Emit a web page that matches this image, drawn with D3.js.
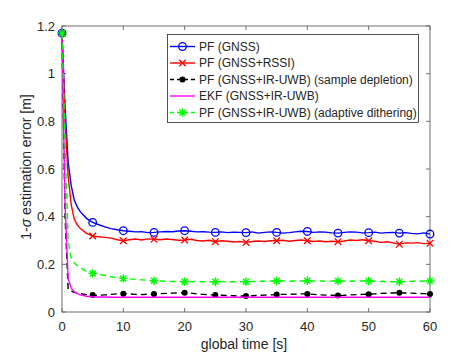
<!DOCTYPE html>
<html><head><meta charset="utf-8">
<script src="https://cdn.jsdelivr.net/npm/d3@7"></script>
<style>body{margin:0;background:#fff}svg{display:block}</style>
</head><body><svg id="c" width="474" height="355"></svg>
<script>
const times = [0,0.5,1,1.5,2,2.5,3,4,5,6,7,8,9,10,11,12,13,14,15,16,17,18,19,20,21,22,23,24,25,26,27,28,29,30,31,32,33,34,35,36,37,38,39,40,41,42,43,44,45,46,47,48,49,50,51,52,53,54,55,56,57,58,59,60];
const pfGnss = [1.17,0.86,0.63,0.53,0.47,0.44,0.42,0.393,0.376,0.366,0.357,0.350,0.345,0.341,0.339,0.336,0.337,0.333,0.334,0.336,0.338,0.337,0.340,0.341,0.339,0.336,0.337,0.335,0.334,0.336,0.333,0.335,0.334,0.333,0.336,0.331,0.334,0.336,0.334,0.331,0.333,0.336,0.339,0.338,0.334,0.336,0.335,0.332,0.331,0.334,0.336,0.335,0.332,0.333,0.335,0.331,0.333,0.334,0.331,0.333,0.330,0.328,0.332,0.327];
const pfRssi = [1.17,0.80,0.57,0.45,0.39,0.365,0.35,0.33,0.319,0.316,0.313,0.310,0.303,0.299,0.303,0.306,0.302,0.307,0.305,0.303,0.306,0.304,0.301,0.302,0.305,0.300,0.298,0.301,0.295,0.299,0.297,0.294,0.296,0.292,0.296,0.298,0.296,0.299,0.299,0.301,0.297,0.300,0.302,0.299,0.296,0.298,0.295,0.297,0.295,0.298,0.302,0.300,0.303,0.299,0.297,0.292,0.295,0.290,0.284,0.290,0.289,0.291,0.287,0.288];
const pfDepletion = [1.17,0.40,0.095,0.088,0.083,0.080,0.077,0.073,0.071,0.070,0.072,0.074,0.076,0.077,0.076,0.074,0.073,0.075,0.076,0.077,0.078,0.079,0.080,0.081,0.079,0.076,0.074,0.072,0.071,0.070,0.069,0.068,0.067,0.067,0.068,0.070,0.071,0.072,0.073,0.074,0.074,0.075,0.076,0.076,0.074,0.072,0.071,0.070,0.069,0.070,0.072,0.073,0.074,0.075,0.076,0.078,0.079,0.080,0.081,0.080,0.079,0.078,0.077,0.076];
const ekf = [1.17,0.45,0.14,0.10,0.085,0.077,0.072,0.066,0.064,0.063,0.063,0.062,0.062,0.062,0.062,0.062,0.062,0.062,0.062,0.062,0.062,0.062,0.062,0.062,0.062,0.062,0.062,0.062,0.062,0.062,0.062,0.062,0.062,0.062,0.062,0.062,0.062,0.062,0.062,0.062,0.062,0.062,0.062,0.062,0.062,0.062,0.062,0.062,0.062,0.062,0.062,0.062,0.062,0.062,0.062,0.062,0.062,0.062,0.062,0.062,0.062,0.062,0.062,0.062];
const pfDither = [1.17,0.72,0.30,0.225,0.205,0.195,0.185,0.170,0.162,0.158,0.153,0.148,0.144,0.141,0.139,0.137,0.135,0.133,0.131,0.130,0.129,0.128,0.128,0.127,0.127,0.128,0.127,0.127,0.127,0.128,0.127,0.127,0.128,0.127,0.128,0.129,0.129,0.130,0.130,0.130,0.129,0.130,0.130,0.131,0.130,0.130,0.129,0.130,0.130,0.130,0.129,0.130,0.130,0.130,0.129,0.128,0.128,0.127,0.127,0.128,0.129,0.129,0.130,0.130];
const xTicks = [0,10,20,30,40,50,60];
const yTicks = [0,0.2,0.4,0.6,0.8,1,1.2];
const yTickLabels = ["0","0.2","0.4","0.6","0.8","1","1.2"];
const seriesNames = ["PF (GNSS)","PF (GNSS+RSSI)","PF (GNSS+IR-UWB) (sample depletion)","EKF (GNSS+IR-UWB)","PF (GNSS+IR-UWB) (adaptive dithering)"];

const series = [
  {name:seriesNames[0], vals:pfGnss, color:"#0000ff", dash:null, marker:"o"},
  {name:seriesNames[1], vals:pfRssi, color:"#ff0000", dash:null, marker:"x"},
  {name:seriesNames[2], vals:pfDepletion, color:"#000000", dash:"6,4", marker:"."},
  {name:seriesNames[3], vals:ekf, color:"#ff00ff", dash:null, marker:null},
  {name:seriesNames[4], vals:pfDither, color:"#00ff00", dash:"6,4", marker:"*"}
];

const svg = d3.select("#c");
const L=62, R=430, T=26, B=312;
const x = d3.scaleLinear().domain([0,60]).range([L,R]);
const y = d3.scaleLinear().domain([0,1.2]).range([B,T]);
const font = "'Liberation Sans', Arial, sans-serif";
const axCol = "#6e6e6e", txtCol = "#262626";

// box
svg.append("rect").attr("x",L).attr("y",T).attr("width",R-L).attr("height",B-T)
  .attr("fill","#fff").attr("stroke",axCol).attr("stroke-width",1);

// ticks inward on all sides
const tk = 4;
const g = svg.append("g").attr("stroke",axCol).attr("stroke-width",1);
xTicks.forEach(t=>{
  g.append("line").attr("x1",x(t)).attr("x2",x(t)).attr("y1",B).attr("y2",B-tk);
  g.append("line").attr("x1",x(t)).attr("x2",x(t)).attr("y1",T).attr("y2",T+tk);
});
yTicks.forEach(t=>{
  g.append("line").attr("y1",y(t)).attr("y2",y(t)).attr("x1",L).attr("x2",L+tk);
  g.append("line").attr("y1",y(t)).attr("y2",y(t)).attr("x1",R).attr("x2",R-tk);
});
xTicks.forEach(t=>{
  svg.append("text").attr("x",x(t)).attr("y",B+19).attr("text-anchor","middle")
    .attr("font-family",font).attr("font-size",13).attr("fill",txtCol).text(t);
});
yTicks.forEach((t,i)=>{
  svg.append("text").attr("x",L-7).attr("y",y(t)+4.5).attr("text-anchor","end")
    .attr("font-family",font).attr("font-size",13).attr("fill",txtCol).text(yTickLabels[i]);
});
svg.append("text").attr("x",(L+R)/2-2).attr("y",349).attr("text-anchor","middle")
  .attr("font-family",font).attr("font-size",14).attr("fill",txtCol).text("global time [s]");
const yl = svg.append("text").attr("transform",`translate(31,${(T+B)/2-2}) rotate(-90)`)
  .attr("text-anchor","middle").attr("font-family",font).attr("font-size",14).attr("fill",txtCol);
yl.append("tspan").text("1-");
yl.append("tspan").attr("font-style","italic").text("σ");
yl.append("tspan").text(" estimation error [m]");

function drawMarker(sel, type, cx, cy, color){
  if(type==="o"){
    sel.append("circle").attr("cx",cx).attr("cy",cy).attr("r",3.8).attr("fill","none").attr("stroke",color).attr("stroke-width",1.3);
  } else if(type==="x"){
    const s=3.3;
    sel.append("path").attr("d",`M${cx-s},${cy-s}L${cx+s},${cy+s}M${cx-s},${cy+s}L${cx+s},${cy-s}`).attr("stroke",color).attr("stroke-width",1.3).attr("fill","none");
  } else if(type==="."){
    sel.append("circle").attr("cx",cx).attr("cy",cy).attr("r",3).attr("fill",color);
  } else if(type==="*"){
    const s=4.2, d=3.0;
    sel.append("path").attr("d",`M${cx-s},${cy}L${cx+s},${cy}M${cx},${cy-s}L${cx},${cy+s}M${cx-d},${cy-d}L${cx+d},${cy+d}M${cx-d},${cy+d}L${cx+d},${cy-d}`).attr("stroke",color).attr("stroke-width",1.4).attr("fill","none");
  }
}

const line = d3.line().x((d,i)=>x(times[i])).y(d=>y(d));
series.forEach(s=>{
  svg.append("path").datum(s.vals).attr("d",line).attr("fill","none")
    .attr("stroke",s.color).attr("stroke-width",1.4)
    .attr("stroke-dasharray",s.dash);
  if(s.marker){
    const mg = svg.append("g");
    times.forEach((t,i)=>{ if(t%5===0) drawMarker(mg,s.marker,x(t),y(s.vals[i]),s.color); });
  }
});

// legend
const lg = svg.append("g");
lg.append("rect").attr("x",167.5).attr("y",34.5).attr("width",251).attr("height",88)
  .attr("fill","#fff").attr("stroke",txtCol).attr("stroke-width",0.8);
series.forEach((s,i)=>{
  const yy = 46.5 + i*16.5;
  lg.append("line").attr("x1",170).attr("x2",195).attr("y1",yy).attr("y2",yy)
    .attr("stroke",s.color).attr("stroke-width",1.4).attr("stroke-dasharray",s.dash?"4,3":null);
  if(s.marker) drawMarker(lg,s.marker,182.5,yy,s.color);
  lg.append("text").attr("x",199).attr("y",yy+4.3).attr("font-family",font).attr("font-size",12)
    .attr("fill",txtCol).text(s.name);
});
</script></body></html>
